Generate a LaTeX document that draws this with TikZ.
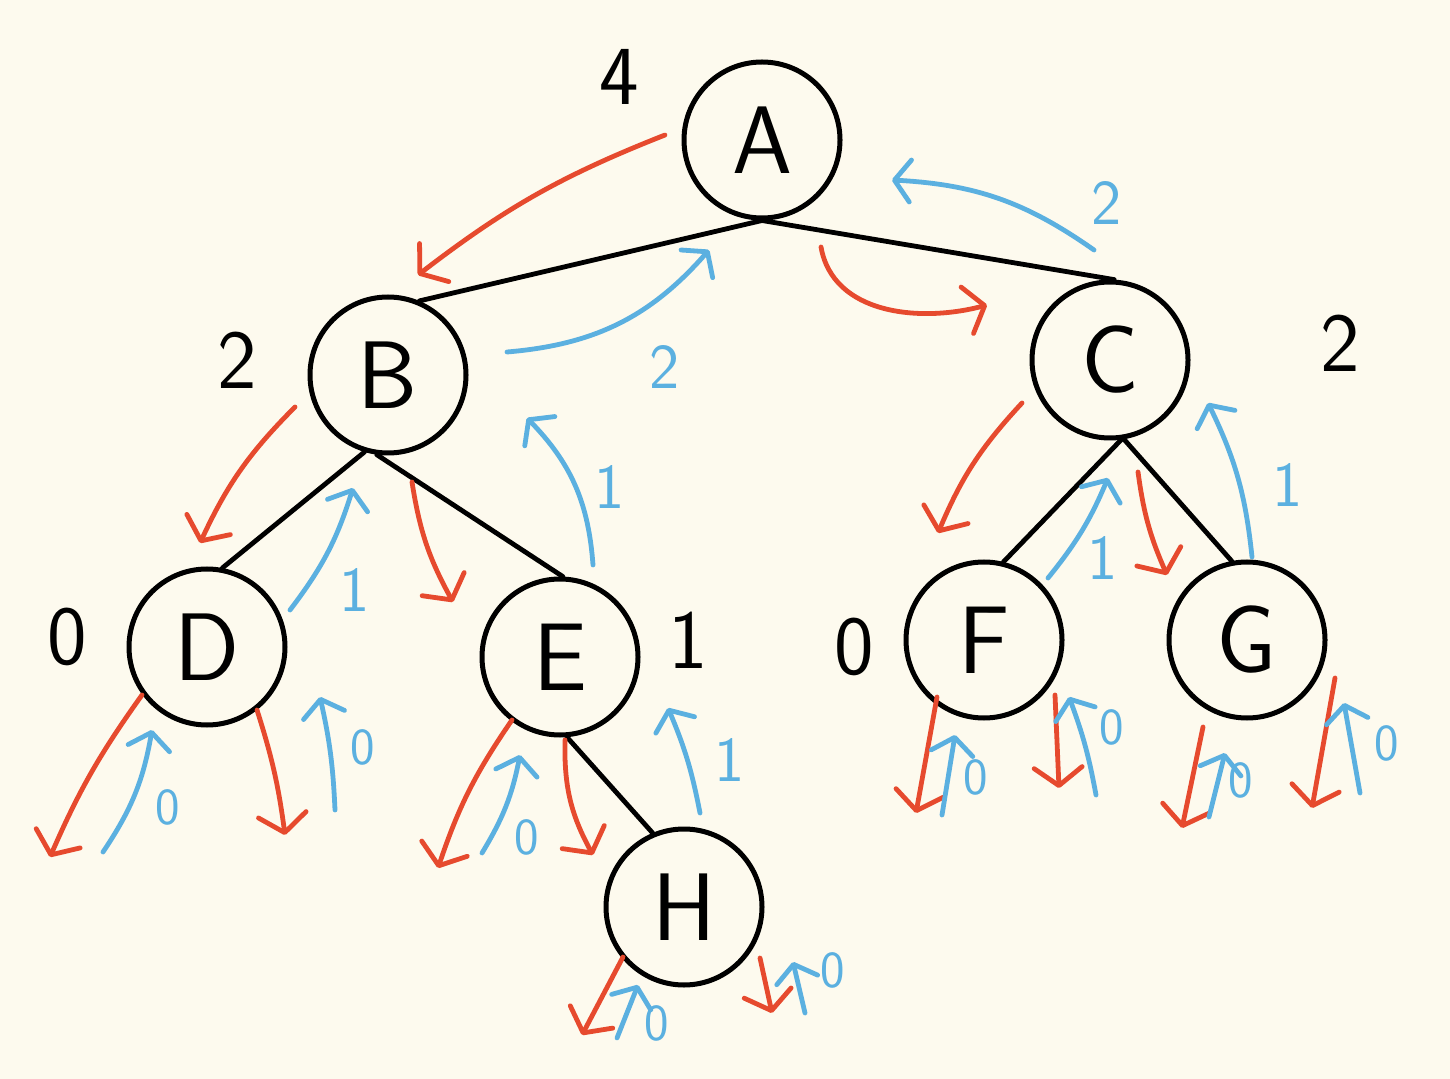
\documentclass[tikz,border=0pt]{standalone}
\usepackage{fontspec}
\usepackage{tikz}
\usetikzlibrary{arrows.meta,calc}
\definecolor{paper}{HTML}{FDFAEE}
\definecolor{callred}{HTML}{E64A2E}
\definecolor{retblue}{HTML}{5BB0E0}

\begin{document}
\begin{tikzpicture}[
  x=0.5pt, y=0.5pt,
  vert/.style={draw, circle, line width=2.5pt, minimum size=78pt, inner sep=0pt, font=\sffamily\fontsize{48}{48}\selectfont},
  link/.style={line width=2.4pt, line cap=round},
  call/.style={draw=callred, line width=2.4pt, line cap=round, -{Straight Barb[length=9pt, width=24pt, round]}},
  ret/.style={draw=retblue, line width=2.4pt, line cap=round, -{Straight Barb[length=8pt, width=21pt, round]}},
  hgt/.style={font=\sffamily\fontsize{42}{42}\selectfont},
  rv/.style={text=retblue, font=\sffamily\fontsize{32}{32}\selectfont},
  rz/.style={text=retblue, font=\sffamily\fontsize{26}{26}\selectfont}
]
\path[use as bounding box, fill=paper] (0,0) rectangle (1450,-1079);

% tree
\node[vert] (a) at (762,-140) {A};
\node[vert] (b) at (388,-375) {B};
\node[vert] (c) at (1110,-360) {C};
\node[vert] (d) at (207,-647) {D};
\node[vert] (e) at (560,-657) {E};
\node[vert] (f) at (984,-640) {F};
\node[vert] (g) at (1247,-640) {G};
\node[vert] (h) at (684,-907) {H};
\draw[link] (a.south) -- (b.67);
\draw[link] (a.south) -- (c.87);
\draw[link] (b.253) -- (d.79);
\draw[link] (b.262) -- (e.88);
\draw[link] (c.278) -- (f.76);
\draw[link] (c.280) -- (g.101);
\draw[link] (e.275) -- (h.113);

% heights
\node[hgt] (ha) at ($(a)+(-143,63)$) {4};
\node[hgt] (hb) at ($(b)+(-151,15)$) {2};
\node[hgt] (hc) at ($(c)+(230,17)$) {2};
\node[hgt] (hd) at ($(d)+(-140,10)$) {0};
\node[hgt] (he) at ($(e)+(128,17)$) {1};
\node[hgt] (hf) at ($(f)+(-130,-7)$) {0};

% calls going down
\draw[call] ($(a)+(-97,5)$) to[bend right=8] ($(b)+(30,100)$);
\draw[call] ($(a)+(59,-107)$) to[out=-80,in=195] ($(c)+(-123,55)$);
\draw[call] ($(b)+(-93,-32)$) to[bend right=10] ($(d)+(-7,104)$);
\draw[call] ($(b)+(24,-107)$) to[bend right=10] ($(e)+(-107,55)$);
\draw[call] ($(c)+(-88,-43)$) to[bend right=10] ($(f)+(-46,107)$);
\draw[call] ($(c)+(28,-112)$) to[bend right=8] ($(g)+(-80,65)$);
\draw[call] ($(e)+(5,-83)$) to[bend right=15] ($(e)+(33,-198)$);
\draw[call] ($(d)+(-65,-48)$) to[bend right=6] ($(d)+(-157,-210)$);
\draw[call] ($(d)+(50,-63)$) to[bend left=5] ($(d)+(78,-188)$);
\draw[call] ($(e)+(-48,-63)$) to[bend right=8] ($(e)+(-122,-211)$);
\draw[call] ($(h)+(-61,-50)$) -- ($(h)+(-102,-128)$);
\draw[call] ($(h)+(76,-51)$) -- ($(h)+(88,-106)$);
\draw[call] ($(f)+(-47,-57)$) -- ($(f)+(-68,-173)$);
\draw[call] ($(f)+(71,-55)$) -- ($(f)+(75,-148)$);
\draw[call] ($(g)+(-44,-87)$) -- ($(g)+(-65,-188)$);
\draw[call] ($(g)+(88,-38)$) -- ($(g)+(65,-168)$);

% values going up
\draw[ret] ($(b)+(119,23)$) to[bend right=22] ($(a)+(-53,-110)$);
\node[rv] (rb) at ($(b)+(277,8)$) {2};
\draw[ret] ($(c)+(-16,110)$) to[bend right=16] ($(a)+(130,-40)$);
\node[rv] (rc) at ($(c)+(-3,157)$) {2};
\draw[ret] ($(d)+(83,37)$) to[bend right=10] ($(b)+(-35,-113)$);
\node[rv] (rd) at ($(d)+(148,57)$) {1};
\draw[ret] ($(e)+(33,92)$) to[bend right=20] ($(b)+(139,-43)$);
\node[rv] (re) at ($(e)+(50,170)$) {1};
\draw[ret] ($(f)+(64,62)$) to[bend right=8] ($(c)+(-2,-118)$);
\node[rv] (rf) at ($(f)+(119,82)$) {1};
\draw[ret] ($(g)+(5,83)$) to[bend right=10] ($(c)+(98,-43)$);
\node[rv] (rg) at ($(g)+(41,155)$) {1};
\draw[ret] ($(h)+(16,94)$) to[bend right=6] ($(e)+(108,-51)$);
\node[rv] (rh) at ($(h)+(46,147)$) {1};

% empty children give 0
\draw[ret] ($(d)+(-104,-205)$) to[bend right=12] ($(d)+(-55,-83)$);
\node[rz] (zd1) at ($(d)+(-39,-160)$) {0};
\draw[ret] ($(d)+(128,-163)$) to[bend right=5] ($(d)+(113,-50)$);
\node[rz] (zd2) at ($(d)+(156,-100)$) {0};
\draw[ret] ($(e)+(-78,-196)$) to[bend right=10] ($(e)+(-40,-98)$);
\node[rz] (ze1) at ($(e)+(-33,-180)$) {0};
\draw[ret] ($(h)+(-67,-131)$) -- ($(h)+(-46,-78)$);
\node[rz] (zh1) at ($(h)+(-27,-116)$) {0};
\draw[ret] ($(h)+(121,-106)$) -- ($(h)+(109,-55)$);
\node[rz] (zh2) at ($(h)+(149,-63)$) {0};
\draw[ret] ($(f)+(-42,-175)$) -- ($(f)+(-29,-95)$);
\node[rz] (zf1) at ($(f)+(-8,-137)$) {0};
\draw[ret] ($(f)+(112,-155)$) to[bend right=5] ($(f)+(85,-57)$);
\node[rz] (zf2) at ($(f)+(128,-87)$) {0};
\draw[ret] ($(g)+(-38,-177)$) -- ($(g)+(-22,-113)$);
\node[rz] (zg1) at ($(g)+(-6,-140)$) {0};
\draw[ret] ($(g)+(113,-153)$) -- ($(g)+(97,-63)$);
\node[rz] (zg2) at ($(g)+(140,-103)$) {0};
\end{tikzpicture}
\end{document}
